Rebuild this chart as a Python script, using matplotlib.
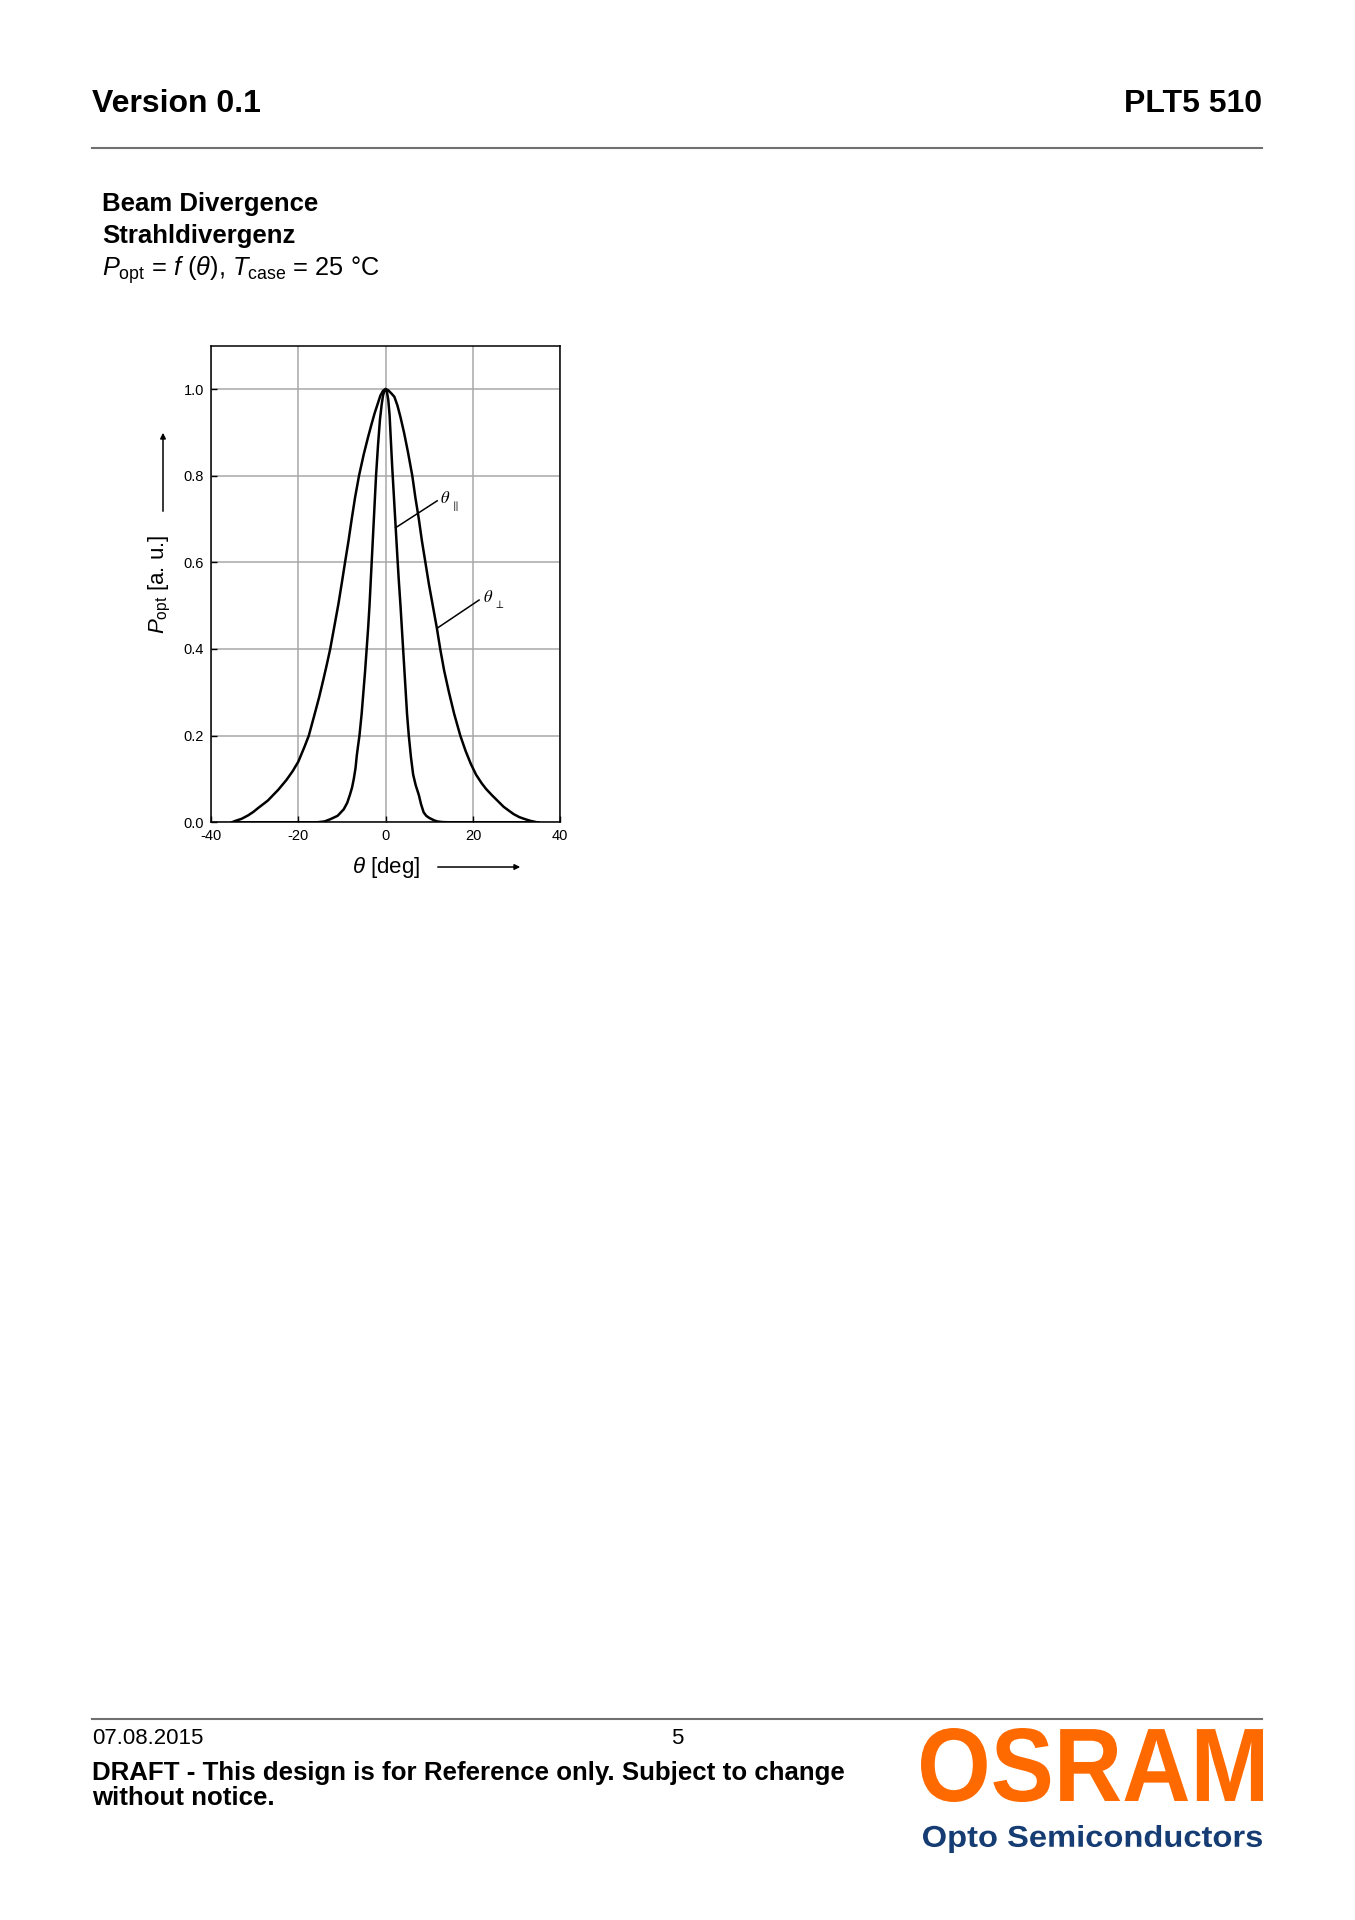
import matplotlib
matplotlib.use("Agg")
import matplotlib.pyplot as plt
import matplotlib.transforms as mtransforms
from matplotlib.textpath import TextPath
from matplotlib.patches import PathPatch, FancyArrowPatch
from matplotlib.font_manager import FontProperties

plt.rcParams['font.family'] = ['Liberation Sans', 'DejaVu Sans']
plt.rcParams['mathtext.fontset'] = 'custom'
plt.rcParams['mathtext.rm'] = 'Liberation Sans'
plt.rcParams['mathtext.it'] = 'Liberation Sans:italic'
plt.rcParams['mathtext.bf'] = 'Liberation Sans:bold'
plt.rcParams['axes.unicode_minus'] = False

# beam profile, perpendicular axis (wide curve)
theta_perp = [-35.2, -34.5, -33.0, -31.5, -30.3, -29.2, -27.0, -24.6, -22.7, -21.3,
              -20.0, -18.6, -17.6, -16.2, -15.2, -14.3, -13.5, -12.7, -11.7, -10.8,
              -10.0, -9.3, -8.5, -7.8, -7.0, -6.1, -5.0, -4.0, -3.2, -2.5,
              -1.2, -0.6, 0.0, 0.6, 1.3, 2.0, 2.7, 3.4, 4.2, 5.1,
              6.1, 6.8, 7.6, 8.3, 9.1, 9.9, 10.8, 11.7, 12.5, 13.4,
              14.5, 15.7, 17.1, 18.3, 19.5, 20.7, 22.0, 23.0, 24.3, 25.6,
              27.0, 28.2, 29.3, 30.6, 32.0, 33.3, 34.7]
p_perp = [0.0, 0.003, 0.008, 0.016, 0.024, 0.033, 0.05, 0.075, 0.098, 0.118,
          0.14, 0.174, 0.20, 0.252, 0.29, 0.328, 0.363, 0.40, 0.455, 0.505,
          0.555, 0.60, 0.65, 0.698, 0.75, 0.80, 0.85, 0.89, 0.92, 0.945,
          0.985, 0.996, 1.0, 0.997, 0.99, 0.982, 0.962, 0.935, 0.90, 0.855,
          0.80, 0.75, 0.70, 0.65, 0.60, 0.55, 0.50, 0.45, 0.40, 0.35,
          0.30, 0.25, 0.20, 0.165, 0.135, 0.11, 0.09, 0.077, 0.063, 0.05,
          0.036, 0.027, 0.019, 0.012, 0.007, 0.003, 0.0]

# beam profile, parallel axis (narrow curve)
theta_par = [-35.0, -15.7, -14.0, -12.7, -11.0, -9.6, -8.8, -8.2, -7.7, -7.3,
             -6.9, -6.6, -6.3, -6.0, -5.5, -5.1, -4.7, -4.35, -4.0, -3.7,
             -3.45, -3.2, -2.95, -2.7, -2.45, -2.2, -1.75, -1.3, -0.9, -0.6,
             -0.3, 0.0, 0.3, 0.6, 0.9, 1.2, 1.5, 1.9, 2.3, 2.7,
             3.0, 3.4, 3.7, 4.0, 4.3, 4.6, 4.9, 5.3, 5.8, 6.3,
             6.9, 7.6, 8.1, 8.7, 9.3, 10.0, 11.0, 11.8, 13.0, 14.5,
             35.0]
p_par = [0.0, 0.0, 0.002, 0.007, 0.015, 0.03, 0.045, 0.063, 0.08, 0.10,
         0.125, 0.155, 0.178, 0.20, 0.25, 0.30, 0.35, 0.40, 0.45, 0.50,
         0.55, 0.60, 0.65, 0.70, 0.75, 0.80, 0.87, 0.93, 0.965, 0.985,
         0.996, 1.0, 0.993, 0.975, 0.94, 0.88, 0.82, 0.75, 0.68, 0.61,
         0.56, 0.50, 0.45, 0.40, 0.35, 0.30, 0.25, 0.20, 0.15, 0.11,
         0.085, 0.063, 0.042, 0.023, 0.015, 0.01, 0.005, 0.002, 0.0005, 0.0,
         0.0]

x_ticks = [-40, -20, 0, 20, 40]
y_ticks = [0.0, 0.2, 0.4, 0.6, 0.8, 1.0]

W, H = 1355, 1920
fig = plt.figure(figsize=(W / 100, H / 100), dpi=100)


def fx(px):
    return px / W


def fy(py):
    return 1 - py / H


def fit_text(s, x0, x1, ytop, ybot, color):
    # draw bold text stretched into a pixel box (logo)
    tp = TextPath((0, 0), s, size=100, prop=FontProperties(family='Liberation Sans', weight='bold'))
    ext = tp.get_extents()
    sx = (x1 - x0) / ext.width
    sy = (ybot - ytop) / ext.height
    tr = (mtransforms.Affine2D().translate(-ext.x0, -ext.y0).scale(sx, sy)
          .translate(x0, H - ybot) + mtransforms.IdentityTransform())
    fig.add_artist(PathPatch(tp, transform=tr, facecolor=color, edgecolor='none'))


# page header
fig.text(fx(92), fy(111.5), 'Version 0.1', fontsize=23, fontweight='bold', va='baseline')
fig.text(fx(1262), fy(111.5), 'PLT5 510', fontsize=23, fontweight='bold', va='baseline', ha='right')
fig.add_artist(plt.Line2D([fx(92), fx(1262)], [fy(148), fy(148)], color='#707070', lw=1.5))

fig.text(fx(102), fy(211.5), 'Beam Divergence', fontsize=18.5, fontweight='bold', va='baseline')
fig.text(fx(102), fy(243.5), 'Strahldivergenz', fontsize=18.5, fontweight='bold', va='baseline')
fig.text(fx(102), fy(276), r'$P_\mathrm{opt}$ = $f$ ($\theta$), $T_\mathrm{case}$ = 25 °C',
         fontsize=18.3, va='baseline')

# chart
ax = fig.add_axes([fx(211), fy(822.3), (560.3 - 211) / W, (822.3 - 345.7) / H])
ax.plot(theta_perp, p_perp, color='black', lw=1.8)
ax.plot(theta_par, p_par, color='black', lw=1.8)
ax.set_xlim(-40, 40)
ax.set_ylim(0, 1.1)
ax.set_xticks(x_ticks)
ax.set_yticks(y_ticks)
ax.set_yticklabels(['%.1f' % v for v in y_ticks])
ax.grid(True, color='#a8a8a8', lw=1.1)
ax.set_axisbelow(True)
ax.tick_params(direction='in', length=4, width=1, labelsize=10.5, pad=5)
for s in ax.spines.values():
    s.set_linewidth(1.1)

# curve labels with leader lines
ax.plot([2.3, 11.8], [0.68, 0.742], color='black', lw=1.1)
ax.text(12.4, 0.748, r'$\theta$', fontsize=12, math_fontfamily='stix', va='center')
ax.text(15.0, 0.73, r'$\parallel$', fontsize=8, math_fontfamily='stix', va='center')
ax.plot([11.8, 21.4], [0.448, 0.513], color='black', lw=1.1)
ax.text(22.3, 0.52, r'$\theta$', fontsize=12, math_fontfamily='stix', va='center')
ax.text(24.8, 0.503, r'$\perp$', fontsize=8, math_fontfamily='stix', va='center')

# axis labels with arrows
fig.text(fx(160), fy(584), r'$P_\mathrm{opt}$ [a. u.]', fontsize=16, rotation=90,
         ha='center', va='center')
fig.add_artist(FancyArrowPatch((fx(163), fy(514)), (fx(163), fy(430)),
               transform=fig.transFigure, arrowstyle='-|>', mutation_scale=8,
               color='black', lw=1.1))
fig.text(fx(386), fy(867), r'$\theta$ [deg]', fontsize=16, ha='center', va='center')
fig.add_artist(FancyArrowPatch((fx(435), fy(867)), (fx(523), fy(867)),
               transform=fig.transFigure, arrowstyle='-|>', mutation_scale=8,
               color='black', lw=1.1))

# page footer
fig.add_artist(plt.Line2D([fx(92), fx(1262)], [fy(1719), fy(1719)], color='#707070', lw=1.5))
fig.text(fx(92), fy(1744), '07.08.2015', fontsize=16, va='baseline')
fig.text(fx(677), fy(1744), '5', fontsize=16, va='baseline', ha='center')
fig.text(fx(92), fy(1780), 'DRAFT - This design is for Reference only. Subject to change',
         fontsize=18.6, fontweight='bold', va='baseline')
fig.text(fx(92), fy(1805), 'without notice.', fontsize=18.6, fontweight='bold', va='baseline')

fit_text('OSRAM', 921, 1263, 1728, 1802, '#ff6a00')
fit_text('Opto Semiconductors', 923, 1262, 1825, 1853, '#163d73')

fig.savefig('out.png', dpi=100)
